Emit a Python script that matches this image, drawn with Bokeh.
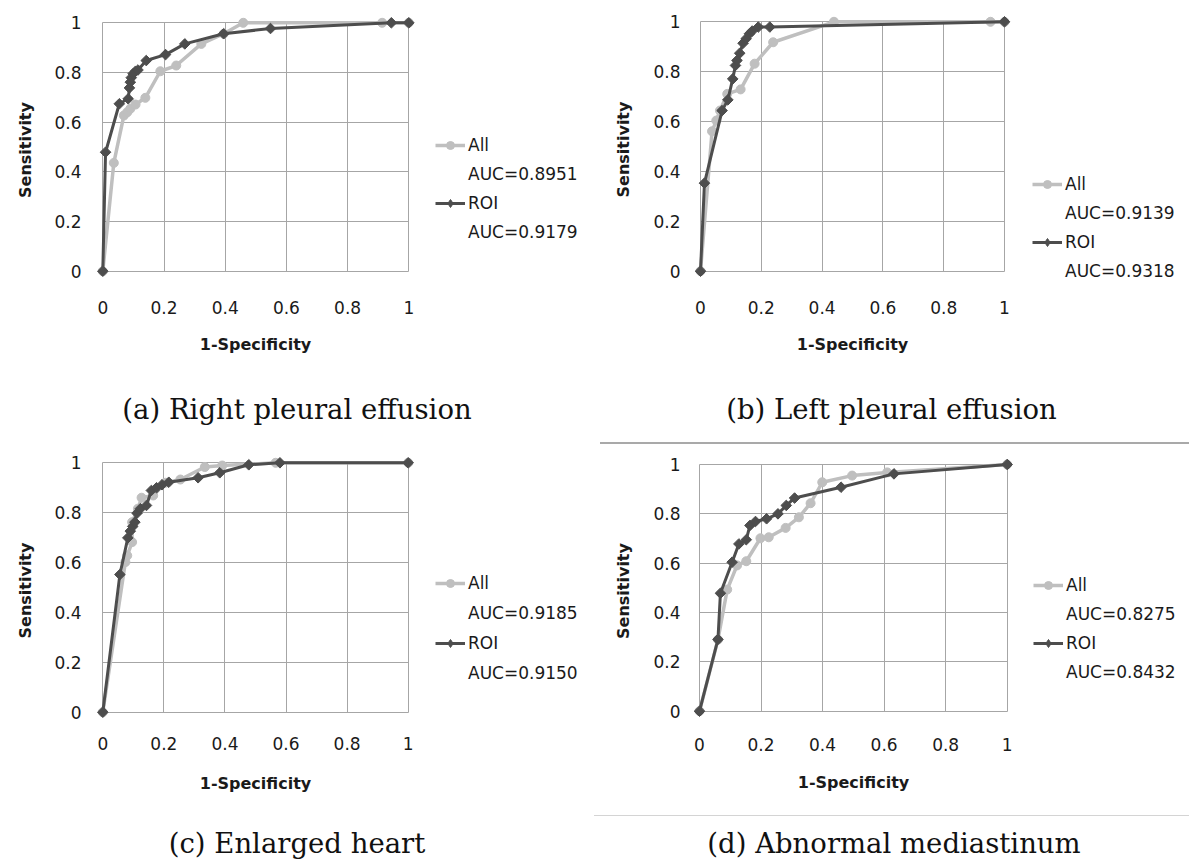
from bokeh.plotting import figure
from bokeh.layouts import column, row
from bokeh.models import Range1d, FixedTicker, Legend, LegendItem, Div
from bokeh.embed import file_html
from bokeh.resources import INLINE

# ---------------- data ----------------
tick_values = [0, 0.2, 0.4, 0.6, 0.8, 1]
tick_labels = ["0", "0.2", "0.4", "0.6", "0.8", "1"]
series_names = ["All", "ROI"]
x_title = "1-Specificity"
y_title = "Sensitivity"
captions = ["(a) Right pleural effusion", "(b) Left pleural effusion",
            "(c) Enlarged heart", "(d) Abnormal mediastinum"]
auc_all = ["0.8951", "0.9139", "0.9185", "0.8275"]
auc_roi = ["0.9179", "0.9318", "0.9150", "0.8432"]

a_all_x = [0, 0.036, 0.069, 0.080, 0.090, 0.107, 0.139, 0.188, 0.240, 0.322, 0.395, 0.459, 0.913, 1.0]
a_all_y = [0, 0.436, 0.627, 0.640, 0.654, 0.671, 0.698, 0.805, 0.828, 0.915, 0.956, 1.0, 1.0, 1.0]
a_roi_x = [0, 0.009, 0.054, 0.083, 0.087, 0.090, 0.093, 0.099, 0.107, 0.115, 0.142, 0.205, 0.268, 0.395, 0.548, 0.943, 1.0]
a_roi_y = [0, 0.479, 0.674, 0.694, 0.738, 0.761, 0.779, 0.795, 0.805, 0.810, 0.848, 0.872, 0.915, 0.956, 0.977, 1.0, 1.0]

b_all_x = [0, 0.038, 0.052, 0.064, 0.088, 0.132, 0.178, 0.239, 0.439, 0.954, 1.0]
b_all_y = [0, 0.561, 0.604, 0.644, 0.711, 0.729, 0.832, 0.918, 1.0, 1.0, 1.0]
b_roi_x = [0, 0.013, 0.071, 0.090, 0.106, 0.115, 0.120, 0.129, 0.140, 0.150, 0.161, 0.170, 0.190, 0.228, 1.0]
b_roi_y = [0, 0.353, 0.644, 0.687, 0.771, 0.825, 0.845, 0.874, 0.914, 0.932, 0.952, 0.963, 0.979, 0.979, 1.0]

c_all_x = [0, 0.074, 0.080, 0.096, 0.096, 0.115, 0.127, 0.165, 0.205, 0.254, 0.334, 0.391, 0.566, 1.0]
c_all_y = [0, 0.602, 0.628, 0.682, 0.762, 0.816, 0.860, 0.869, 0.920, 0.933, 0.983, 0.989, 1.0, 1.0]
c_roi_x = [0, 0.056, 0.082, 0.090, 0.098, 0.105, 0.112, 0.123, 0.143, 0.159, 0.176, 0.194, 0.216, 0.312, 0.383, 0.478, 0.580, 1.0]
c_roi_y = [0, 0.552, 0.699, 0.726, 0.745, 0.762, 0.798, 0.816, 0.829, 0.889, 0.900, 0.912, 0.922, 0.940, 0.960, 0.992, 1.0, 1.0]

d_all_x = [0, 0.060, 0.090, 0.122, 0.152, 0.198, 0.225, 0.280, 0.323, 0.361, 0.399, 0.496, 0.610, 1.0]
d_all_y = [0, 0.290, 0.493, 0.591, 0.608, 0.701, 0.705, 0.743, 0.786, 0.843, 0.928, 0.955, 0.968, 1.0]
d_roi_x = [0, 0.060, 0.068, 0.106, 0.128, 0.152, 0.164, 0.182, 0.218, 0.255, 0.282, 0.309, 0.460, 0.632, 1.0]
d_roi_y = [0, 0.291, 0.478, 0.604, 0.678, 0.695, 0.753, 0.769, 0.780, 0.800, 0.834, 0.864, 0.908, 0.962, 1.0]

# ---------------- style ----------------
ALL_COLOR = "#bfbfbf"
ROI_COLOR = "#4d4d4d"
GRID_COLOR = "#a6a6a6"
TEXT_COLOR = "#1a1a1a"
SANS = "DejaVu Sans"
PAD = 8        # frame padding around the 0..1 box (left, right, top)
PAD_B = 14     # frame padding below the box
ALL_LINE = dict(line_color=ALL_COLOR, line_width=3.5, line_join="round")
ALL_MARK = dict(marker="circle", size=9, fill_color=ALL_COLOR, line_color=ALL_COLOR)
ROI_LINE = dict(line_color=ROI_COLOR, line_width=3, line_join="round")
ROI_MARK = dict(marker="square", angle=0.785398, size=7.5, fill_color=ROI_COLOR, line_color=ROI_COLOR)
ROI_MARK_LEG = dict(marker="diamond", size=11, fill_color=ROI_COLOR, line_color=ROI_COLOR)


def make_panel(W, H, X0, X1, Y1, Y0, all_x, all_y, roi_x, roi_y, aa, ar,
               xtick_c, xlab_c, ylab_c, ytick_r, leg_left, leg_first, leg_last):
    L = round(X0 - PAD)
    T = round(Y1 - PAD)
    B = round(H - Y0 - PAD_B)
    fr = round(X1 + PAD)          # frame right edge (incl. padding)
    Wm = fr + 4                   # main figure width
    R = Wm - fr
    fb = H - B
    ux = X1 - X0
    uy = Y0 - Y1
    p = figure(width=Wm, height=H,
               x_range=Range1d(-(X0 - L) / ux, 1 + (fr - X1) / ux),
               y_range=Range1d(-(fb - Y0) / uy, 1 + (Y1 - T) / uy),
               min_border_left=L, min_border_right=R, min_border_top=T, min_border_bottom=B,
               toolbar_location=None, output_backend="svg", title=None)
    p.outline_line_color = None
    p.background_fill_color = "white"
    p.border_fill_color = "white"

    for g in (p.xgrid[0], p.ygrid[0]):
        g.ticker = FixedTicker(ticks=tick_values)
        g.bounds = (0, 1)
        g.cross_bounds = (0, 1)
        g.grid_line_color = GRID_COLOR
        g.grid_line_width = 1

    overrides = dict(zip(tick_values, tick_labels))
    for ax in (p.xaxis[0], p.yaxis[0]):
        ax.ticker = FixedTicker(ticks=tick_values)
        ax.major_label_overrides = overrides
        ax.axis_line_color = None
        ax.major_tick_line_color = None
        ax.minor_tick_line_color = None
        ax.major_tick_out = 0
        ax.major_tick_in = 0
        ax.minor_tick_out = 0
        ax.minor_tick_in = 0
        ax.major_label_text_font = SANS
        ax.major_label_text_font_size = "17px"
        ax.major_label_text_color = TEXT_COLOR
        ax.axis_label_text_font = SANS
        ax.axis_label_text_font_size = "16px"
        ax.axis_label_text_font_style = "bold"
        ax.axis_label_text_color = TEXT_COLOR

    p.xaxis[0].axis_label = x_title
    p.yaxis[0].axis_label = y_title
    p.xaxis[0].major_label_standoff = round(xtick_c - 7.6 - fb)
    p.xaxis[0].axis_label_standoff = round((xlab_c - 9) - (xtick_c - 7.6 + 20))
    p.yaxis[0].major_label_standoff = round(L - ytick_r)
    p.yaxis[0].axis_label_standoff = round((ytick_r - 27) - (ylab_c + 10))

    p.line(all_x, all_y, **ALL_LINE)
    p.scatter(all_x, all_y, **ALL_MARK)
    p.line(roi_x, roi_y, **ROI_LINE)
    p.scatter(roi_x, roi_y, **ROI_MARK)

    # legend panel to the right of the plot area (its frame is aligned with the plot's frame);
    # the series are repeated there outside its visible range so that only the legend shows
    Wl = W - Wm
    q = figure(width=Wl, height=H, x_range=Range1d(10, 11), y_range=Range1d(10, 11),
               x_axis_type=None, y_axis_type=None, min_border=0,
               toolbar_location=None, output_backend="svg", title=None)
    q.outline_line_color = None
    q.xgrid.visible = False
    q.ygrid.visible = False
    la = q.line(all_x, all_y, **ALL_LINE)
    sa = q.scatter(all_x, all_y, **ALL_MARK)
    lr = q.line(roi_x, roi_y, **ROI_LINE)
    sr = q.scatter(roi_x, roi_y, **ROI_MARK_LEG)

    step = (leg_last - leg_first) / 3.0
    item_h = 20
    spacing = round(step - item_h)
    leg_h = 4 * item_h + 3 * spacing
    leg_bottom = leg_first - item_h / 2 + leg_h
    leg = Legend(items=[LegendItem(label=series_names[0], renderers=[la, sa], index=0),
                        LegendItem(label="AUC=" + aa, renderers=[]),
                        LegendItem(label=series_names[1], renderers=[lr, sr], index=0),
                        LegendItem(label="AUC=" + ar, renderers=[])],
                 location=(leg_left - Wm, fb - leg_bottom), orientation="vertical",
                 padding=0, margin=0, spacing=spacing,
                 glyph_width=30, glyph_height=item_h, label_height=item_h, label_standoff=3,
                 label_text_font=SANS, label_text_font_size="17px",
                 label_text_color=TEXT_COLOR,
                 border_line_color=None, background_fill_alpha=0)
    q.add_layout(leg)
    return row(p, q)


def caption_div(text, W, H, pad_top, shift=0, top_rule=None):
    rule = ""
    if top_rule is not None:
        rule = "margin-top:2px;border-top:1px solid %s;" % top_rule
    html = ('<div style="%swidth:%dpx;box-sizing:border-box;padding-top:%dpx;padding-left:%dpx;'
            'font-family:\'DejaVu Serif\';font-size:27.5px;line-height:normal;color:#111111;'
            'text-align:center;white-space:nowrap;">%s</div>') % (rule, W, pad_top, shift, text)
    return Div(text=html, width=W, height=H, margin=0)


pa = make_panel(594, 380, 102.3, 408.3, 22.3, 270.7, a_all_x, a_all_y, a_roi_x, a_roi_y,
                auc_all[0], auc_roi[0], 308, 347, 28, 81, 435, 145, 233)
pb = make_panel(595, 380, 106, 410, 21.3, 270.7, b_all_x, b_all_y, b_roi_x, b_roi_y,
                auc_all[1], auc_roi[1], 308, 347, 32, 86, 438, 184, 271)
pc = make_panel(594, 380, 102.3, 407.7, 30.3, 279.7, c_all_x, c_all_y, c_roi_x, c_roi_y,
                auc_all[2], auc_roi[2], 312, 354, 28, 81, 435, 151, 242)
pd = make_panel(595, 369, 105, 412.7, 20, 266.7, d_all_x, d_all_y, d_roi_x, d_roi_y,
                auc_all[3], auc_roi[3], 301, 341, 32, 86, 439, 141, 229)

cap_a = caption_div(captions[0], 594, 52, 13)
cap_b = caption_div(captions[1], 595, 52, 13)
cap_c = caption_div(captions[2], 594, 51, 15)
cap_d = caption_div(captions[3], 595, 50, 11, shift=5, top_rule="#d4d4d4")
rule_d = Div(text='<div style="margin-left:6px;width:589px;height:10px;border-bottom:2px solid #a9a9a9;"></div>',
             width=595, height=12, margin=0)

layout = column(row(column(pa, cap_a), column(pb, cap_b)),
                row(column(pc, cap_c), column(rule_d, pd, cap_d)))
open("out.html", "w").write(file_html(layout, INLINE))
